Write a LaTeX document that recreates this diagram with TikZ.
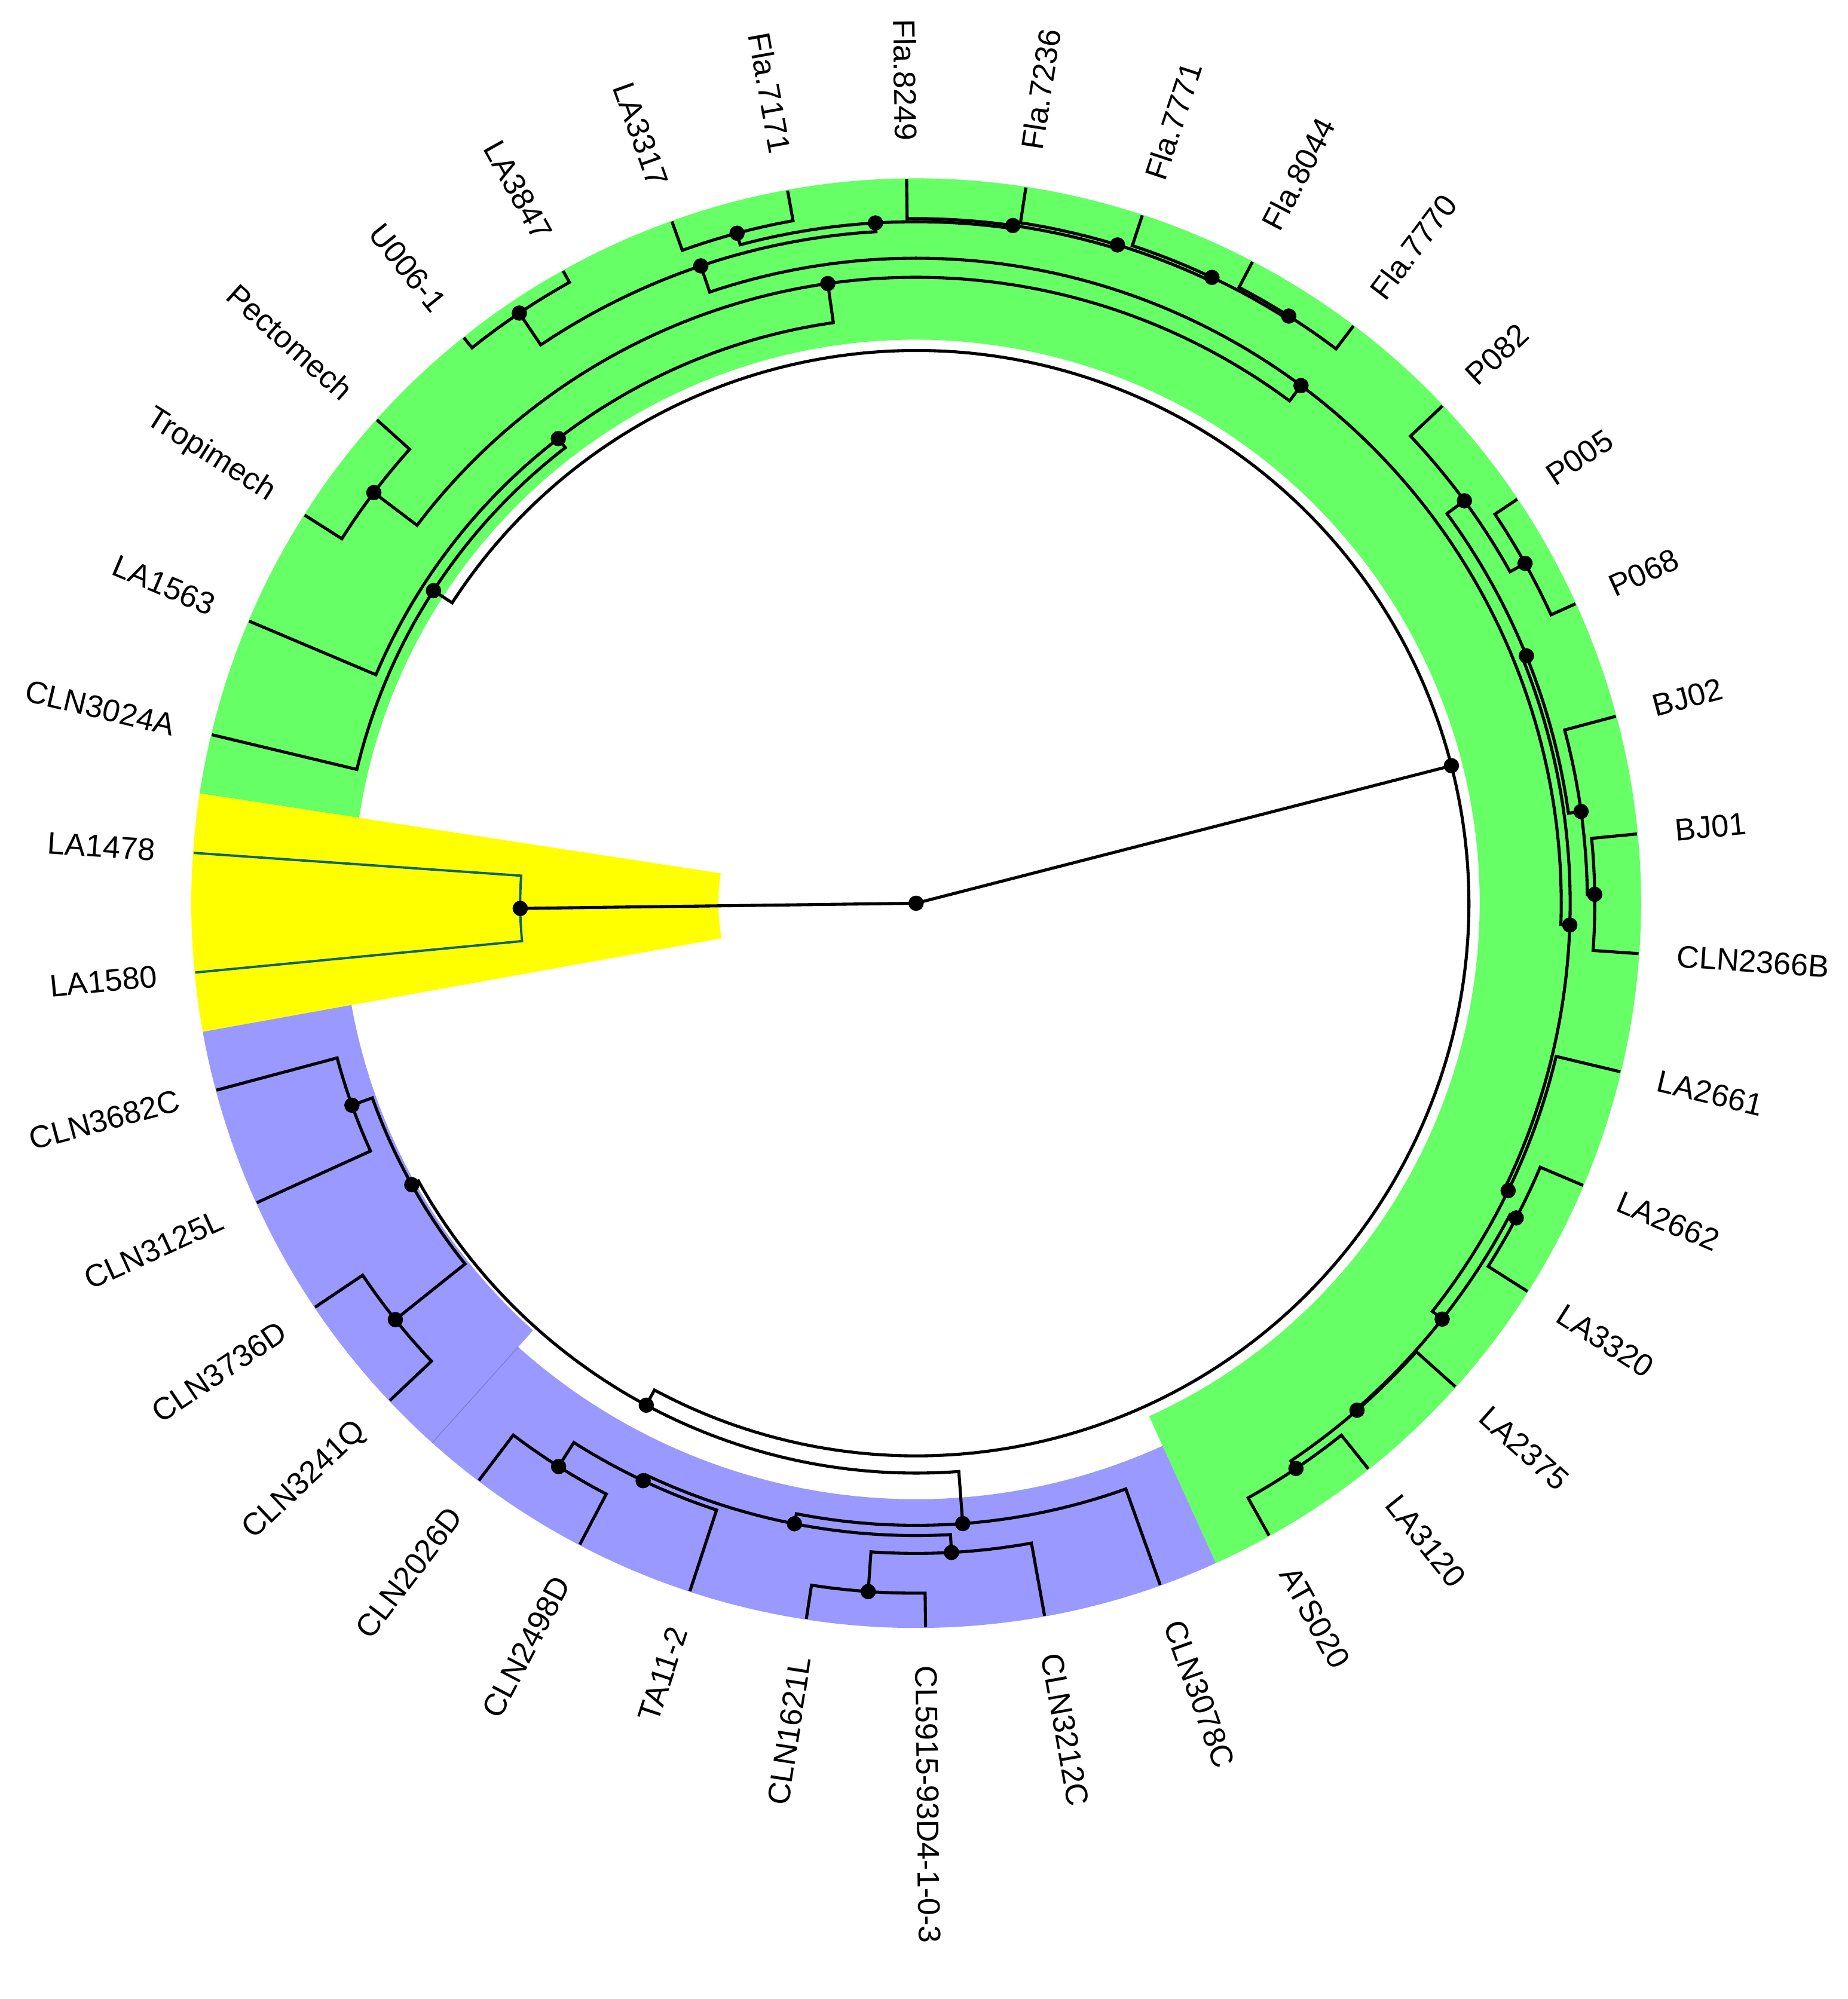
\documentclass[tikz,border=0pt]{standalone}
\usepackage{fontspec}
\setmainfont{Liberation Sans}
\definecolor{cladegreen}{HTML}{66FF66}
\definecolor{cladeblue}{HTML}{9999FF}
\definecolor{cladeyellow}{HTML}{FFFF00}
\definecolor{tealline}{RGB}{10,100,105}
\tikzset{
  limb/.style={color=black, line width=1.7pt},
  ylimb/.style={color=tealline, line width=1.3pt},
  tiplab/.style={font=\fontsize{17.4}{20}\selectfont, inner sep=0pt},
  labL/.style={tiplab, anchor=east},
  labR/.style={tiplab, anchor=west},
}
% parent, parent angle, parent radius, child angle, child
\newcommand{\clade}[5]{\draw[limb] (#1) arc[start angle=#2,end angle=#4,radius=#3] -- (#5);}
% colour, from angle, to angle, inner radius, outer radius
\newcommand{\hilight}[5]{\fill[#1] (#2:#4) -- (#2:#5) arc[start angle=#2,end angle=#3,radius=#5] -- (#3:#4) arc[start angle=#3,end angle=#2,radius=#4] -- cycle;}
\begin{document}
\begin{tikzpicture}[scale=0.25]
\useasboundingbox (-71.85,-85.95) rectangle (73.05,70.85);
% clade colours
\hilight{cladegreen}{-65.57}{171.28}{44.2}{56.85}
\hilight{cladeyellow}{171.28}{190.22}{15.5}{56.85}
\hilight{cladeblue}{190.22}{228.12}{45.0}{56.85}
\hilight{cladeblue}{228.12}{294.43}{46.75}{56.85}
\draw[color=cladeblue!80!black, line width=0.4pt] (228.12:46.75) -- (228.12:56.85);
% tips
\coordinate (Fla8249) at (90.75:56.8);
\coordinate (Fla7171) at (100.22:56.8);
\coordinate (LA3317) at (109.70:56.8);
\coordinate (LA3847) at (119.17:56.8);
\coordinate (U0061) at (128.64:56.8);
\coordinate (Pectomech) at (138.12:56.8);
\coordinate (Tropimech) at (147.59:56.8);
\coordinate (LA1563) at (157.07:56.8);
\coordinate (CLN3024A) at (166.54:56.8);
\coordinate (LA1478) at (176.01:56.8);
\coordinate (LA1580) at (185.49:56.8);
\coordinate (CLN3682C) at (194.96:56.8);
\coordinate (CLN3125L) at (204.43:56.8);
\coordinate (CLN3736D) at (213.91:56.8);
\coordinate (CLN3241Q) at (223.38:56.8);
\coordinate (CLN2026D) at (232.86:56.8);
\coordinate (CLN2498D) at (242.33:56.8);
\coordinate (TA112) at (251.80:56.8);
\coordinate (CLN1621L) at (261.28:56.8);
\coordinate (CL5915) at (270.75:56.8);
\coordinate (CLN3212C) at (280.22:56.8);
\coordinate (CLN3078C) at (289.70:56.8);
\coordinate (ATS020) at (-60.83:56.8);
\coordinate (LA3120) at (-51.36:56.8);
\coordinate (LA2375) at (-41.88:56.8);
\coordinate (LA3320) at (-32.41:56.8);
\coordinate (LA2662) at (-22.93:56.8);
\coordinate (LA2661) at (-13.46:56.8);
\coordinate (CLN2366B) at (-3.99:56.8);
\coordinate (BJ01) at (5.49:56.8);
\coordinate (BJ02) at (14.96:56.8);
\coordinate (P068) at (24.43:56.8);
\coordinate (P005) at (33.91:56.8);
\coordinate (P082) at (43.38:56.8);
\coordinate (Fla7770) at (52.86:56.8);
\coordinate (Fla8044) at (62.33:56.8);
\coordinate (Fla7771) at (71.80:56.8);
\coordinate (Fla7236) at (81.28:56.8);
% inner nodes
\coordinate (R) at (0,0);
\coordinate (Y) at (180.75:31.05);
\coordinate (B0) at (14.41:43.35);
\coordinate (G0) at (147.07:45.1);
\coordinate (G1) at (127.59:46.0);
\coordinate (H) at (98.11:49.1);
\coordinate (TP) at (142.86:53.35);
\coordinate (I) at (53.37:50.6);
\coordinate (F3) at (108.66:52.77);
\coordinate (LU) at (123.91:55.78);
\coordinate (F2) at (93.42:53.46);
\coordinate (F1) at (104.96:54.4);
\coordinate (F4) at (81.87:53.7);
\coordinate (F5) at (72.99:54.0);
\coordinate (F6) at (64.70:54.3);
\coordinate (F7) at (57.60:54.55);
\coordinate (J) at (-1.91:51.3);
\coordinate (L1) at (22.07:51.65);
\coordinate (L2) at (7.86:52.65);
\coordinate (L3) at (0.75:53.23);
\coordinate (L4) at (36.28:53.35);
\coordinate (L5) at (29.17:54.7);
\coordinate (K5) at (-25.90:51.62);
\coordinate (K3) at (-38.33:52.6);
\coordinate (K2) at (-48.99:52.7);
\coordinate (K1) at (-56.10:53.42);
\coordinate (K4) at (-27.67:53.15);
\coordinate (BB) at (241.74:44.7);
\coordinate (Q3) at (209.17:45.3);
\coordinate (Q1) at (199.70:47.0);
\coordinate (Q2) at (218.65:52.3);
\coordinate (Q9) at (274.30:48.8);
\coordinate (Q7) at (258.91:49.6);
\coordinate (Q8) at (244.70:50.1);
\coordinate (Q4) at (237.60:52.33);
\coordinate (Q6) at (273.12:51.0);
\coordinate (Q5) at (266.02:54.12);
% branches
\draw[limb] (R) -- (Y);
\draw[limb] (R) -- (B0);
\draw[ylimb] (Y) arc[start angle=180.75,end angle=176.01,radius=31.05] -- (LA1478);
\draw[ylimb] (Y) arc[start angle=180.75,end angle=185.49,radius=31.05] -- (LA1580);
\clade{B0}{14.41}{43.35}{147.07}{G0}
\clade{B0}{14.41}{43.35}{-118.26}{BB}
\clade{G0}{147.07}{45.1}{127.59}{G1}
\clade{G0}{147.07}{45.1}{166.54}{CLN3024A}
\clade{G1}{127.59}{46.0}{98.11}{H}
\clade{G1}{127.59}{46.0}{157.07}{LA1563}
\clade{H}{98.11}{49.1}{142.86}{TP}
\clade{H}{98.11}{49.1}{53.37}{I}
\clade{TP}{142.86}{53.35}{138.12}{Pectomech}
\clade{TP}{142.86}{53.35}{147.59}{Tropimech}
\clade{I}{53.37}{50.6}{108.66}{F3}
\clade{I}{53.37}{50.6}{-1.91}{J}
\clade{F3}{108.66}{52.77}{123.91}{LU}
\clade{F3}{108.66}{52.77}{93.42}{F2}
\clade{LU}{123.91}{55.78}{119.17}{LA3847}
\clade{LU}{123.91}{55.78}{128.64}{U0061}
\clade{F2}{93.42}{53.46}{104.96}{F1}
\clade{F2}{93.42}{53.46}{81.87}{F4}
\clade{F1}{104.96}{54.4}{100.22}{Fla7171}
\clade{F1}{104.96}{54.4}{109.70}{LA3317}
\clade{F4}{81.87}{53.7}{90.75}{Fla8249}
\clade{F4}{81.87}{53.7}{72.99}{F5}
\clade{F5}{72.99}{54.0}{81.28}{Fla7236}
\clade{F5}{72.99}{54.0}{64.70}{F6}
\clade{F6}{64.70}{54.3}{71.80}{Fla7771}
\clade{F6}{64.70}{54.3}{57.60}{F7}
\clade{F7}{57.60}{54.55}{62.33}{Fla8044}
\clade{F7}{57.60}{54.55}{52.86}{Fla7770}
\clade{J}{-1.91}{51.3}{-25.90}{K5}
\clade{J}{-1.91}{51.3}{22.07}{L1}
\clade{L1}{22.07}{51.65}{7.86}{L2}
\clade{L1}{22.07}{51.65}{36.28}{L4}
\clade{L2}{7.86}{52.65}{0.75}{L3}
\clade{L2}{7.86}{52.65}{14.96}{BJ02}
\clade{L3}{0.75}{53.23}{-3.99}{CLN2366B}
\clade{L3}{0.75}{53.23}{5.49}{BJ01}
\clade{L4}{36.28}{53.35}{29.17}{L5}
\clade{L4}{36.28}{53.35}{43.38}{P082}
\clade{L5}{29.17}{54.7}{24.43}{P068}
\clade{L5}{29.17}{54.7}{33.91}{P005}
\clade{K5}{-25.90}{51.62}{-38.33}{K3}
\clade{K5}{-25.90}{51.62}{-13.46}{LA2661}
\clade{K3}{-38.33}{52.6}{-48.99}{K2}
\clade{K3}{-38.33}{52.6}{-27.67}{K4}
\clade{K2}{-48.99}{52.7}{-56.10}{K1}
\clade{K2}{-48.99}{52.7}{-41.88}{LA2375}
\clade{K1}{-56.10}{53.42}{-60.83}{ATS020}
\clade{K1}{-56.10}{53.42}{-51.36}{LA3120}
\clade{K4}{-27.67}{53.15}{-32.41}{LA3320}
\clade{K4}{-27.67}{53.15}{-22.93}{LA2662}
\clade{BB}{241.74}{44.7}{209.17}{Q3}
\clade{BB}{241.74}{44.7}{274.30}{Q9}
\clade{Q3}{209.17}{45.3}{199.70}{Q1}
\clade{Q3}{209.17}{45.3}{218.65}{Q2}
\clade{Q1}{199.70}{47.0}{194.96}{CLN3682C}
\clade{Q1}{199.70}{47.0}{204.43}{CLN3125L}
\clade{Q2}{218.65}{52.3}{213.91}{CLN3736D}
\clade{Q2}{218.65}{52.3}{223.38}{CLN3241Q}
\clade{Q9}{274.30}{48.8}{258.91}{Q7}
\clade{Q9}{274.30}{48.8}{289.70}{CLN3078C}
\clade{Q7}{258.91}{49.6}{244.70}{Q8}
\clade{Q7}{258.91}{49.6}{273.12}{Q6}
\clade{Q8}{244.70}{50.1}{237.60}{Q4}
\clade{Q8}{244.70}{50.1}{251.80}{TA112}
\clade{Q4}{237.60}{52.33}{232.86}{CLN2026D}
\clade{Q4}{237.60}{52.33}{242.33}{CLN2498D}
\clade{Q6}{273.12}{51.0}{266.02}{Q5}
\clade{Q6}{273.12}{51.0}{280.22}{CLN3212C}
\clade{Q5}{266.02}{54.12}{261.28}{CLN1621L}
\clade{Q5}{266.02}{54.12}{270.75}{CL5915}
% node dots
\fill (R) circle[radius=0.6] (Y) circle[radius=0.6] (B0) circle[radius=0.6];
\fill (G0) circle[radius=0.6] (G1) circle[radius=0.6] (H) circle[radius=0.6] (TP) circle[radius=0.6];
\fill (I) circle[radius=0.6] (F3) circle[radius=0.6] (LU) circle[radius=0.6] (F2) circle[radius=0.6];
\fill (F1) circle[radius=0.6] (F4) circle[radius=0.6] (F5) circle[radius=0.6] (F6) circle[radius=0.6] (F7) circle[radius=0.6];
\fill (J) circle[radius=0.6] (L1) circle[radius=0.6] (L2) circle[radius=0.6] (L3) circle[radius=0.6] (L4) circle[radius=0.6] (L5) circle[radius=0.6];
\fill (K5) circle[radius=0.6] (K3) circle[radius=0.6] (K2) circle[radius=0.6] (K1) circle[radius=0.6] (K4) circle[radius=0.6];
\fill (BB) circle[radius=0.6] (Q3) circle[radius=0.6] (Q1) circle[radius=0.6] (Q2) circle[radius=0.6] (Q9) circle[radius=0.6];
\fill (Q7) circle[radius=0.6] (Q8) circle[radius=0.6] (Q4) circle[radius=0.6] (Q6) circle[radius=0.6] (Q5) circle[radius=0.6];
% tip labels
\node[labL, rotate=-89.25] (nFla8249) at (90.75:59.8) {Fla.8249};
\node[labL, rotate=-79.78] (nFla7171) at (100.22:59.8) {Fla.7171};
\node[labL, rotate=-70.30] (nLA3317) at (109.70:59.8) {LA3317};
\node[labL, rotate=-60.83] (nLA3847) at (119.17:59.8) {LA3847};
\node[labL, rotate=-51.36] (nU0061) at (128.64:59.8) {U006-1};
\node[labL, rotate=-41.88] (nPectomech) at (138.12:59.8) {Pectomech};
\node[labL, rotate=-32.41] (nTropimech) at (147.59:59.8) {Tropimech};
\node[labL, rotate=-22.93] (nLA1563) at (157.07:59.8) {LA1563};
\node[labL, rotate=-13.46] (nCLN3024A) at (166.54:59.8) {CLN3024A};
\node[labL, rotate=-3.99] (nLA1478) at (176.01:59.8) {LA1478};
\node[labL, rotate=5.49] (nLA1580) at (185.49:59.8) {LA1580};
\node[labL, rotate=14.96] (nCLN3682C) at (194.96:59.8) {CLN3682C};
\node[labL, rotate=24.43] (nCLN3125L) at (204.43:59.8) {CLN3125L};
\node[labL, rotate=33.91] (nCLN3736D) at (213.91:59.8) {CLN3736D};
\node[labL, rotate=43.38] (nCLN3241Q) at (223.38:59.8) {CLN3241Q};
\node[labL, rotate=52.86] (nCLN2026D) at (232.86:59.8) {CLN2026D};
\node[labL, rotate=62.33] (nCLN2498D) at (242.33:59.8) {CLN2498D};
\node[labL, rotate=71.80] (nTA112) at (251.80:59.8) {TA11-2};
\node[labL, rotate=81.28] (nCLN1621L) at (261.28:59.8) {CLN1621L};
\node[labR, rotate=-89.25] (nCL5915) at (270.75:59.8) {CL5915-93D4-1-0-3};
\node[labR, rotate=-79.78] (nCLN3212C) at (280.22:59.8) {CLN3212C};
\node[labR, rotate=-70.30] (nCLN3078C) at (289.70:59.8) {CLN3078C};
\node[labR, rotate=-60.83] (nATS020) at (-60.83:59.8) {ATS020};
\node[labR, rotate=-51.36] (nLA3120) at (-51.36:59.8) {LA3120};
\node[labR, rotate=-41.88] (nLA2375) at (-41.88:59.8) {LA2375};
\node[labR, rotate=-32.41] (nLA3320) at (-32.41:59.8) {LA3320};
\node[labR, rotate=-22.93] (nLA2662) at (-22.93:59.8) {LA2662};
\node[labR, rotate=-13.46] (nLA2661) at (-13.46:59.8) {LA2661};
\node[labR, rotate=-3.99] (nCLN2366B) at (-3.99:59.8) {CLN2366B};
\node[labR, rotate=5.49] (nBJ01) at (5.49:59.8) {BJ01};
\node[labR, rotate=14.96] (nBJ02) at (14.96:59.8) {BJ02};
\node[labR, rotate=24.43] (nP068) at (24.43:59.8) {P068};
\node[labR, rotate=33.91] (nP005) at (33.91:59.8) {P005};
\node[labR, rotate=43.38] (nP082) at (43.38:59.8) {P082};
\node[labR, rotate=52.86] (nFla7770) at (52.86:59.8) {Fla.7770};
\node[labR, rotate=62.33] (nFla8044) at (62.33:59.8) {Fla.8044};
\node[labR, rotate=71.80] (nFla7771) at (71.80:59.8) {Fla.7771};
\node[labR, rotate=81.28] (nFla7236) at (81.28:59.8) {Fla.7236};
\end{tikzpicture}
\end{document}
